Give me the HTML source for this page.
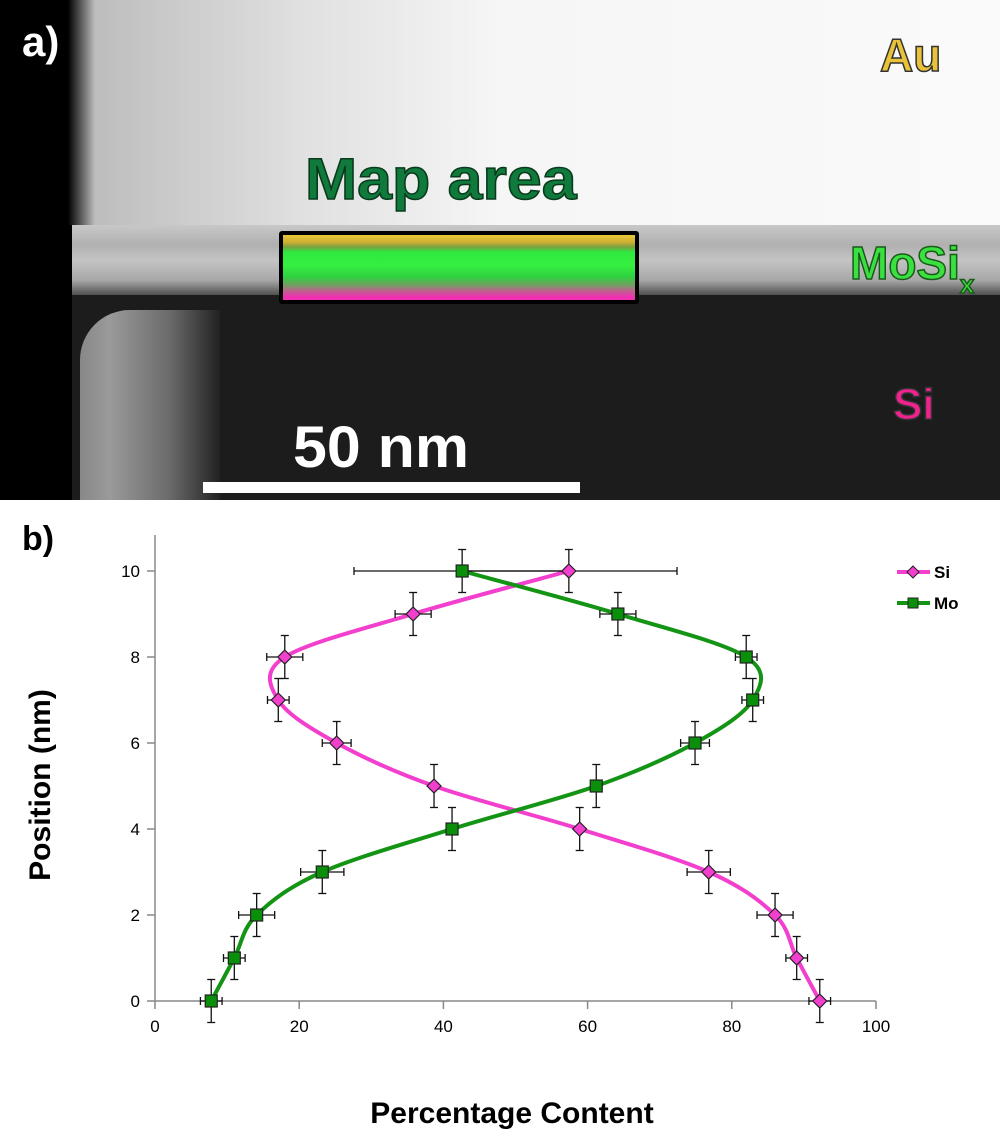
<!DOCTYPE html>
<html><head><meta charset="utf-8"><style>
body{margin:0;width:1000px;height:1136px;background:#fff;overflow:hidden;font-family:"Liberation Sans",sans-serif}
#img{position:absolute;left:0;top:0;width:1000px;height:500px;background:#1c1c1c;overflow:hidden}
.abs{position:absolute}
.lbl{position:absolute;font-weight:bold;font-family:"Liberation Sans",sans-serif;white-space:nowrap}
</style></head><body>
<div id="img">
  <div class="abs" style="left:0;top:0;width:1000px;height:240px;background:linear-gradient(90deg,#000 0,#000 68px,#bdbdbd 95px,#e0e0e0 300px,#f6f6f6 500px,#fafafa 1000px)"></div>
  <div class="abs" style="left:70px;top:225px;width:930px;height:70px;background:linear-gradient(180deg,#c8c8c8 0,#b0b0b0 20px,#c4c4c4 35px,#a8a8a8 55px,#505050 70px)"></div>
  <div class="abs" style="left:0;top:225px;width:72px;height:275px;background:#000"></div>
  <div class="abs" style="left:80px;top:310px;width:140px;height:200px;border-radius:50px 0 0 0;background:linear-gradient(90deg,#888 0,#9a9a9a 30px,#6a6a6a 90px,#222 140px)"></div>
  <div class="abs" style="left:0;top:0;width:66px;height:500px;background:#000"></div>
  <div class="lbl" style="left:22px;top:18px;font-size:42px;color:#fff">a)</div>
  <div class="lbl" style="left:880px;top:28px;font-size:46px;color:#e8c33a;-webkit-text-stroke:1.5px #333">Au</div>
  <div class="lbl" style="left:305px;top:146px;font-size:58px;color:#0f7a3c;-webkit-text-stroke:1.5px #0a3a1c;transform:scaleX(1.08);transform-origin:left">Map area</div>
  <div class="lbl" style="left:850px;top:236px;font-size:46px;color:#3ae040;-webkit-text-stroke:1.5px #1a5a1a">MoSi<span style="font-size:26px;vertical-align:-14px">x</span></div>
  <div class="lbl" style="left:893px;top:380px;font-size:44px;color:#f0228e;-webkit-text-stroke:1.5px #333">Si</div>
  <div class="lbl" style="left:293px;top:414px;font-size:58px;color:#fff;transform:scaleX(1.05);transform-origin:left">50 nm</div>
  <div class="abs" style="left:203px;top:482px;width:377px;height:11px;background:#fff"></div>
  <div class="abs" style="left:279px;top:231px;width:352px;height:65px;border:4px solid #000;border-radius:3px;background:linear-gradient(180deg,#e8c83a 0,#d0b030 7px,#7aa040 12px,#30e840 17px,#34f040 30px,#30d040 42px,#70a060 50px,#c06090 56px,#f030b0 62px,#f030b0 65px)"></div>
</div>
<svg id="chart" class="abs" style="left:0;top:500px" width="1000" height="636" viewBox="0 500 1000 636"></svg>
<script>
const yPos=[10,9,8,7,6,5,4,3,2,1,0];
const siVals=[57.4,35.8,18.0,17.1,25.2,38.7,58.9,76.8,86.0,89.0,92.2];
const moVals=[42.6,64.2,82.0,82.9,74.9,61.2,41.2,23.2,14.1,11.0,7.8];
const siErr=[15,2.5,2.5,1.5,2,0.5,0,3,2.5,1.5,1.5];
const moErr=[15,2.5,1.5,1.5,2,0,0,3,2.5,1.5,1.5];
const yErr=0.5;
const xTicks=[0,20,40,60,80,100];
const yTicks=[0,2,4,6,8,10];
const NS='http://www.w3.org/2000/svg';
const svg=document.getElementById('chart');
const X=v=>155+v*7.21, Y=v=>1001-v*43;
function mk(t,a,p){const e=document.createElementNS(NS,t);for(const k in a)e.setAttribute(k,a[k]);(p||svg).appendChild(e);return e;}
let e;
e=mk('text',{x:22,y:550,'font-size':34,'font-weight':'bold',fill:'#000'});e.textContent='b)';


e=mk('line',{x1:155,y1:535,x2:155,y2:1001,stroke:'#888','stroke-width':1.5});


e=mk('line',{x1:155,y1:1001,x2:876,y2:1001,stroke:'#888','stroke-width':1.5});


yTicks.forEach(t=>{mk('line',{x1:147,y1:Y(t),x2:155,y2:Y(t),stroke:'#888','stroke-width':1.5});
 e=mk('text',{x:140,y:Y(t)+6,'font-size':17,'text-anchor':'end',fill:'#000'});e.textContent=t;
 
 });
xTicks.forEach(t=>{mk('line',{x1:X(t),y1:1001,x2:X(t),y2:1009,stroke:'#888','stroke-width':1.5});
 e=mk('text',{x:X(t),y:1032,'font-size':17,'text-anchor':'middle',fill:'#000'});e.textContent=t;
 
 });
e=mk('text',{x:512,y:1123,'font-size':30,'font-weight':'bold','text-anchor':'middle',fill:'#000'});e.textContent='Percentage Content';


e=mk('text',{x:0,y:0,'font-size':30,'font-weight':'bold','text-anchor':'middle',fill:'#000',transform:'translate(50,785) rotate(-90)'});e.textContent='Position (nm)';


function curve(vals,color){const p=vals.map((v,i)=>[X(v),Y(yPos[i])]);let d='M'+p[0];
 for(let i=0;i<p.length-1;i++){const p0=p[i-1]||p[i],p1=p[i],p2=p[i+1],p3=p[i+2]||p2;
  d+=' C'+(p1[0]+(p2[0]-p0[0])/6)+','+(p1[1]+(p2[1]-p0[1])/6)+' '+(p2[0]-(p3[0]-p1[0])/6)+','+(p2[1]-(p3[1]-p1[1])/6)+' '+p2;}
 return mk('path',{d:d,fill:'none',stroke:color,'stroke-width':4});}
e=curve(siVals,'#f23fce');


e=curve(moVals,'#149414');


function errs(vals,xe){vals.forEach((v,i)=>{const cx=X(v),cy=Y(yPos[i]),dx=xe[i]*7.21,dy=yErr*43;
 const g=mk('g',{stroke:'#111','stroke-width':1.3});
 
 
 mk('line',{x1:cx,y1:cy-dy,x2:cx,y2:cy+dy},g);mk('line',{x1:cx-4,y1:cy-dy,x2:cx+4,y2:cy-dy},g);mk('line',{x1:cx-4,y1:cy+dy,x2:cx+4,y2:cy+dy},g);
 if(dx>0){mk('line',{x1:cx-dx,y1:cy,x2:cx+dx,y2:cy},g);mk('line',{x1:cx-dx,y1:cy-4,x2:cx-dx,y2:cy+4},g);mk('line',{x1:cx+dx,y1:cy-4,x2:cx+dx,y2:cy+4},g);}});}
errs(siVals,siErr);errs(moVals,moErr);
siVals.forEach((v,i)=>{const cx=X(v),cy=Y(yPos[i]);
 e=mk('polygon',{points:`${cx},${cy-7} ${cx+7},${cy} ${cx},${cy+7} ${cx-7},${cy}`,fill:'#f23fce',stroke:'#222','stroke-width':1.2});
 
 });
moVals.forEach((v,i)=>{const cx=X(v),cy=Y(yPos[i]);
 e=mk('rect',{x:cx-6,y:cy-6,width:12,height:12,fill:'#0a8f0a',stroke:'#222','stroke-width':1.2});
 
 });
e=mk('g',{});


mk('line',{x1:897,y1:572,x2:930,y2:572,stroke:'#f23fce','stroke-width':4},e);
mk('polygon',{points:'913,566 919,572 913,578 907,572',fill:'#f23fce',stroke:'#222'},e);
let t=mk('text',{x:934,y:578,'font-size':17,'font-weight':'bold'},e);t.textContent='Si';
mk('line',{x1:897,y1:603,x2:930,y2:603,stroke:'#149414','stroke-width':4},e);
mk('rect',{x:908,y:598,width:10,height:10,fill:'#0a8f0a',stroke:'#222'},e);
t=mk('text',{x:934,y:609,'font-size':17,'font-weight':'bold'},e);t.textContent='Mo';
</script>
</body></html>
